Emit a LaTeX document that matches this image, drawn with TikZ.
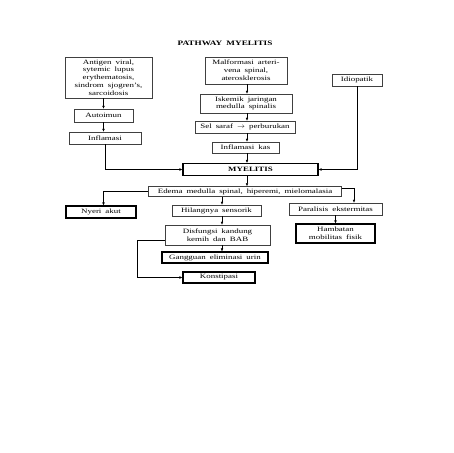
\documentclass[tikz,border=0pt]{standalone}
\usepackage{fontspec}
\setmainfont{Liberation Serif}[FakeStretch=1.35,WordSpace=1.8]
\usetikzlibrary{arrows.meta}

\begin{document}
\begin{tikzpicture}[x=1pt,y=-1pt,
    tbox/.style={draw=black!75,line width=0.5pt,inner sep=0pt,align=center,font=\fontsize{6.6}{7.8}\selectfont},
    tboxb/.style={tbox,draw=black,line width=1.1pt},
    >={Latex[length=3pt,width=2.6pt]}]
    \useasboundingbox (0,0) rectangle (453,453);
    \node[font=\fontsize{6.8}{8}\selectfont\bfseries] (title) at (225,43) {PATHWAY MYELITIS};

    \node[tbox,minimum width=87,minimum height=41] (antigen) at (108.5,77.5) {Antigen viral,\\sytemic lupus\\erythematosis,\\sindrom sjogren's,\\sarcoidosis};
    \node[tbox,minimum width=59,minimum height=13] (autoimun) at (103.5,115.5) {Autoimun};
    \node[tbox,minimum width=72,minimum height=12] (inflamasi) at (105,138) {Inflamasi};

    \node[tbox,minimum width=82,minimum height=27] (malformasi) at (246,70.5) {Malformasi arteri-\\vena spinal,\\aterosklerosis};
    \node[tbox,minimum width=92,minimum height=19] (iskemik) at (246,103.5) {Iskemik jaringan\\medulla spinalis};
    \node[tbox,minimum width=100,minimum height=12] (selsaraf) at (245,127) {Sel saraf $\rightarrow$ perburukan};
    \node[tbox,minimum width=67,minimum height=11] (inflamkas) at (245.5,147.5) {Inflamasi kas};

    \node[tbox,minimum width=50,minimum height=12] (idiopatik) at (357,80) {Idiopatik};

    \node[tboxb,minimum width=135,minimum height=12,font=\fontsize{6.6}{7.8}\selectfont\bfseries] (myelitis) at (250.5,169.5) {MYELITIS};

    \node[tbox,minimum width=193,minimum height=10] (edema) at (245,191.5) {Edema medulla spinal, hiperemi, mielomalasia};
    \node[tboxb,minimum width=70,minimum height=12] (nyeri) at (101,212) {Nyeri akut};
    \node[tbox,minimum width=89,minimum height=11] (hilang) at (216.5,210.5) {Hilangnya sensorik};
    \node[tbox,minimum width=93,minimum height=12] (paralisis) at (335.5,209) {Paralisis ekstermitas};
    \node[tboxb,minimum width=79,minimum height=19] (hambatan) at (335.5,233.5) {Hambatan\\mobilitas fisik};
    \node[tbox,minimum width=105,minimum height=20] (disfungsi) at (217.5,235) {Disfungsi kandung\\kemih dan BAB};
    \node[tboxb,minimum width=106,minimum height=11] (gangguan) at (215,257.5) {Gangguan eliminasi urin};
    \node[tboxb,minimum width=72,minimum height=11] (konstipasi) at (219,277.5) {Konstipasi};

    % jalur vertikal
    \coordinate (cx) at (247,0);
    \coordinate (lx) at (222,0);
    \coordinate (rx) at (354,0);
    \coordinate (kx) at (137,0);

    \draw[->] (antigen.south -| autoimun.north) -- (autoimun.north);
    \draw[->] (autoimun.south) -- (autoimun.south |- inflamasi.north);
    \draw[->] (inflamasi.south) |- (myelitis.west);
    \draw[->] (malformasi.south -| cx) -- (iskemik.north -| cx);
    \draw[->] (iskemik.south -| cx) -- (selsaraf.north -| cx);
    \draw[->] (selsaraf.south -| cx) -- (inflamkas.north -| cx);
    \draw[->] (inflamkas.south -| cx) -- (myelitis.north -| cx);
    \draw[->] (idiopatik.south) |- (myelitis.east);
    \draw[->] (myelitis.south -| cx) -- (edema.north -| cx);
    \draw[->] (edema.west) -| (nyeri.north -| autoimun.north);
    \draw[->] ([yshift=3pt]edema.east) -| (paralisis.north -| rx);
    \draw[->] (edema.south -| lx) -- (hilang.north -| lx);
    \draw[->] (paralisis.south) -- (hambatan.north);
    \draw[->] (hilang.south -| lx) -- (disfungsi.north -| lx);
    \draw[->] (disfungsi.south -| lx) -- (gangguan.north -| lx);
    \draw[->] ([yshift=-5pt]disfungsi.west) -- ([yshift=-5pt]disfungsi.west -| kx) |- (konstipasi.west);
\end{tikzpicture}
\end{document}
